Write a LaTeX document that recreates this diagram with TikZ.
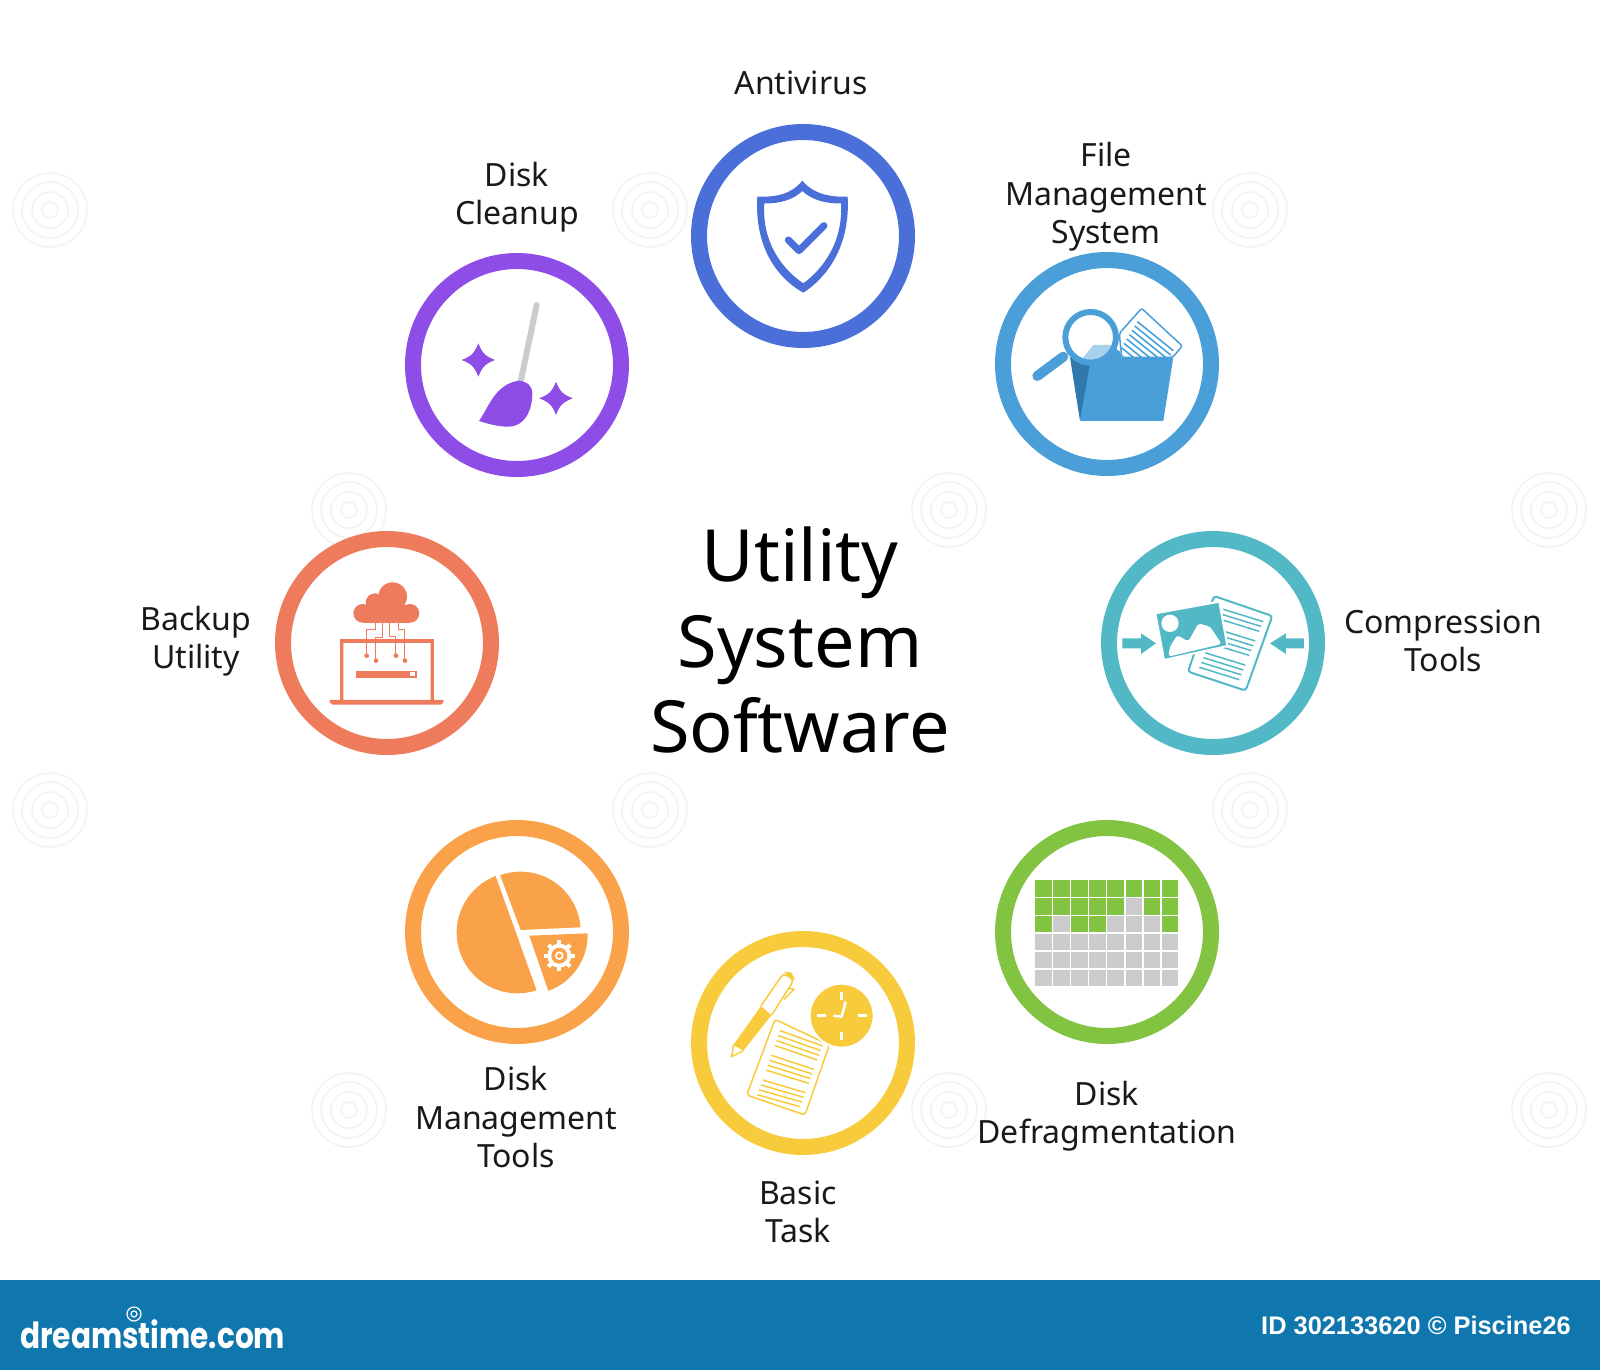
\documentclass[tikz,border=0pt]{standalone}
\usepackage{fontspec}
\setmainfont{Noto Sans}
\newfontfamily\logofont{Poppins}
\newfontfamily\idfont{Liberation Sans}
\definecolor{cAnti}{HTML}{4A6FD8}
\definecolor{cFile}{HTML}{4A9FD9}
\definecolor{cFileDark}{HTML}{2F79AB}
\definecolor{cFileLight}{HTML}{A8D1EE}
\definecolor{cComp}{HTML}{52B8C6}
\definecolor{cDefrag}{HTML}{82C341}
\definecolor{cBasic}{HTML}{F7CB3B}
\definecolor{cMgmt}{HTML}{F9A249}
\definecolor{cBackup}{HTML}{ED7B5C}
\definecolor{cClean}{HTML}{8F4DE8}
\definecolor{cGrey}{HTML}{CCCCCC}
\definecolor{cBanner}{HTML}{0F76AE}
\definecolor{cMark}{HTML}{F3F3F3}
\tikzset{
  ring/.style={circle,draw=#1,line width=16pt,minimum size=208pt,inner sep=0pt,outer sep=0pt},
  lbl/.style={align=center,font=\fontsize{32}{38.5}\selectfont,text=black!90},
  zoomed/.style={x=.3333pt,y=-.3333pt},
}
\begin{document}
\begin{tikzpicture}[x=1pt,y=-1pt]
  \useasboundingbox (0,0) rectangle (1600,1370);
  % faint marks
  \foreach \mx/\my in {50/210,650/210,1250/210,349/510,949/510,1549/510,50/810,650/810,1250/810,349/1110,949/1110,1549/1110}{
    \foreach \mr in {8,18,28,37}
      \draw[cMark,line width=1.6pt] (\mx,\my) circle[radius=\mr];
  }

  % rings and labels
  \foreach \n/\cx/\cy/\col in {Anti/803/236/cAnti,File/1107/364/cFile,Comp/1213/643/cComp,Defrag/1107/932/cDefrag,Basic/803/1043/cBasic,Mgmt/517/932/cMgmt,Backup/387/643/cBackup,Clean/517/365/cClean}
    \node[ring=\col](R\n) at (\cx,\cy){};

  \node[lbl](LAnti) at (801,83){Antivirus};
  \node[lbl](LFile) at (1106,197){File\\Management\\System};
  \node[lbl](LComp) at (1443,641){Compression\\Tools};
  \node[lbl](LDefrag) at (1107,1116){Disk\\Defragmentation};
  \node[lbl](LBasic) at (798,1212){Basic\\Task};
  \node[lbl](LMgmt) at (516,1117){Disk\\Management\\Tools};
  \node[lbl](LBackup) at (196,641){Backup\\Utility};
  \node[lbl](LClean) at (517,197){Disk\\Cleanup};
  \node[align=center,font=\fontsize{72}{85.5}\selectfont,text=black](Title) at (800,640){Utility\\System\\Software};

  % antivirus
  \begin{scope}[shift={(680,120)},zoomed]
    \fill[cAnti,even odd rule] (367,182) .. controls (400,222) and (450,232) .. (503,230)
      .. controls (512,390) and (430,480) .. (370,518) .. controls (300,480) and (222,390) .. (232,230)
      .. controls (290,232) and (335,222) .. (367,182) -- cycle
      (367,213) .. controls (395,240) and (440,252) .. (483,250)
      .. controls (490,370) and (425,450) .. (370,490) .. controls (310,450) and (245,370) .. (253,250)
      .. controls (295,252) and (340,240) .. (367,213) -- cycle;
    \draw[cAnti,line width=7pt,line cap=round,line join=round] (325,360) -- (357,392) -- (432,317);
  \end{scope}

  % file management
  \begin{scope}[shift={(980,240)},zoomed]
    \draw[cFile,fill=white,line width=1.5pt,rounded corners=2pt] (485,205) -- (607,318) -- (578,352) -- (425,352) -- (418,280) -- cycle;
    \foreach \i in {0,1,2,3,4,5,6}
      \draw[cFile,line width=1.6pt] ({472-8*\i},{245+13*\i}) -- ({580-8*\i},{332+13*\i});
    \fill[cFileDark] (270,352) -- (345,352) -- (300,543) -- cycle;
    \fill[cFile] (340,315) -- (392,315) -- (420,335) -- (425,352) -- (580,352) -- (550,543) -- (300,543) -- cycle;
    \draw[cFile,line width=10pt,line cap=round] (250,350) -- (172,408);
    \fill[white] (332,292) circle[radius=70];
    \begin{scope}
      \clip (332,292) circle[radius=70];
      \fill[cFileLight] (340,315) -- (392,315) -- (420,335) -- (425,365) -- (300,365) -- cycle;
    \end{scope}
    \draw[cFile,line width=6pt] (332,292) circle[radius=76];
  \end{scope}

  % compression
  \begin{scope}[shift={(1090,520)},zoomed]
    \draw[cComp,fill=white,line width=2pt,rounded corners=3pt] (372,228) -- (547,288) -- (467,512) -- (294,455) -- cycle;
    \foreach \i in {0,1,2,4,5,6,7,9,10,11,12}
      \draw[cComp,line width=1.5pt] ({400-6*\i},{268+14.5*\i}) -- ({520-6*\i},{305+14.5*\i});
    \fill[cComp,draw=white,line width=2pt] (196,280) -- (388,245) -- (412,378) -- (222,420) -- cycle;
    \fill[white] (240,310) circle[radius=26];
    \fill[white,rounded corners=3pt] (235,410) -- (240,380) -- (262,345) -- (295,365) -- (325,310) -- (360,320) -- (395,372) -- cycle;
    \fill[cComp] (97,355) -- (153,355) -- (153,340) -- (198,370) -- (153,402) -- (153,385) -- (97,385) -- cycle;
    \fill[cComp] (642,355) -- (588,355) -- (588,340) -- (540,370) -- (588,402) -- (588,385) -- (642,385) -- cycle;
  \end{scope}

  % defragmentation
  \begin{scope}[shift={(990,820)},zoomed]
    \foreach \r in {0,...,5}
      \foreach \c in {0,...,7}
        \fill[cGrey] ({135+54.3*\c},{180+54*\r}) rectangle ++(49.5,49.5);
    \foreach \r/\cols in {0/{0,1,2,3,4,5,6,7},1/{0,1,2,3,4,6,7},2/{0,2,3,7}}
      \foreach \c in \cols
        \fill[cDefrag] ({135+54.3*\c},{180+54*\r}) rectangle ++(49.5,49.5);
  \end{scope}

  % basic task
  \begin{scope}[shift={(680,930)},zoomed]
    \fill[cBasic] (160,345) -- (243,228) -- (275,255) -- (190,362) -- cycle;
    \draw[cBasic,line width=1.5pt,line join=round] (160,345) -- (155,380) -- (190,362);
    \draw[cBasic,fill=white,line width=1.5pt,rounded corners=4pt] (243,228) -- (310,130) -- (342,150) -- (275,255);
    \fill[cBasic] (312,125) -- (335,128) -- (345,150) -- (325,140) -- cycle;
    \draw[cBasic,line width=1.5pt] (328,175) -- (342,178) -- (312,208);
    \draw[cBasic,fill=white,line width=1.5pt,rounded corners=3pt] (285,268) -- (448,345) -- (375,555) -- (200,495) -- cycle;
    \foreach \i in {0,1,2,3,5,6,7,8,10,11,12,13}
      \draw[cBasic,line width=1.5pt] ({300-5.2*\i},{302+14.8*\i}) -- ({428-5.2*\i},{348+14*\i});
    \fill[cBasic,draw=white,line width=2pt] (485,257) circle[radius=96];
    \draw[white,line width=3.5pt] (485,185) -- (485,210) (485,305) -- (485,330) (412,257) -- (437,257) (535,257) -- (560,257);
    \draw[white,line width=2.5pt,line join=round] (497,215) -- (485,260) -- (460,257);
  \end{scope}

  % disk management
  \begin{scope}[shift={(400,820)},zoomed]
    \fill[cMgmt] plot[domain=249.1:71.5,samples=50] ({352+182*cos(\x)},{338+182*sin(\x)}) -- cycle;
    \fill[cMgmt] (362,330) -- plot[domain=-110:-4.2,samples=40] ({362+180*cos(\x)},{335+180*sin(\x)}) -- cycle;
    \fill[cMgmt] (388,347) -- plot[domain=-1.6:70.3,samples=30] ({385+178*cos(\x)},{345+178*sin(\x)}) -- cycle;
    \foreach \a in {0,45,...,315}
      \draw[white,line width=4pt] ({478+30*cos(\a)},{407+30*sin(\a)}) -- ({478+46*cos(\a)},{407+46*sin(\a)});
    \fill[white] (478,407) circle[radius=36];
    \fill[cMgmt] (478,407) circle[radius=24];
    \fill[white] (478,407) circle[radius=13];
    \fill[cMgmt] (478,407) circle[radius=7];
  \end{scope}

  % backup
  \begin{scope}[shift={(270,530)},zoomed]
    \foreach \bx/\by/\br in {278/250/28,315/218/28,368/200/43,420/250/28}
      \fill[cBackup] (\bx,\by) circle[radius=\br];
    \fill[cBackup] (278,225) rectangle (420,278);
    \draw[cBackup,line width=1pt] (318,278) -- (318,300) -- (290,300) -- (290,377);
    \draw[cBackup,line width=1pt] (338,278) -- (338,322) -- (318,322) -- (318,392);
    \draw[cBackup,line width=1pt] (360,278) -- (360,320) -- (378,320) -- (378,377);
    \draw[cBackup,line width=1pt] (385,278) -- (385,298) -- (405,298) -- (405,392);
    \draw[cBackup,line width=3.3pt,rounded corners=2pt] (215,510) -- (215,332) -- (487,332) -- (487,510);
    \fill[cBackup] (210,327) rectangle (492,340);
    \foreach \bx/\by in {290/377,318/392,378/377,405/392}
      \fill[cBackup] (\bx,\by) circle[radius=7];
    \fill[cBackup] (180,510) -- (520,510) -- (520,518) -- (512,524) -- (188,524) -- (180,518) -- cycle;
    \fill[cBackup] (258,422) rectangle (442,443);
    \fill[white] (420,427) rectangle (435,438);
  \end{scope}

  % disk cleanup
  \begin{scope}[shift={(400,250)},zoomed]
    \draw[cGrey,line width=6pt,line cap=round] (410,165) -- (362,395);
    \fill[cClean] (237,513) .. controls (270,465) and (285,405) .. (355,392)
      .. controls (385,395) and (397,410) .. (397,430) .. controls (397,480) and (375,530) .. (325,530)
      .. controls (290,530) and (260,520) .. (237,513) -- cycle;
    \foreach \sx/\sy in {235/330,468/445}
      \fill[cClean] (\sx-50,\sy) .. controls (\sx-20,\sy-12) and (\sx-12,\sy-20) .. (\sx,\sy-50)
        .. controls (\sx+12,\sy-20) and (\sx+20,\sy-12) .. (\sx+50,\sy)
        .. controls (\sx+20,\sy+12) and (\sx+12,\sy+20) .. (\sx,\sy+50)
        .. controls (\sx-12,\sy+20) and (\sx-20,\sy+12) .. (\sx-50,\sy) -- cycle;
  \end{scope}

  % banner
  \fill[cBanner] (0,1280) rectangle (1600,1370);
  \node[anchor=west,text=white,inner sep=0pt,xscale=.82,font=\logofont\bfseries\fontsize{36}{36}\selectfont](Logo) at (20,1334){dreamstime.com};
  \draw[white,line width=1.2pt] (134,1314) circle[radius=7] (134,1314) circle[radius=3];
  \node[anchor=east,text=white,inner sep=0pt,font=\idfont\bfseries\fontsize{25.4}{25.4}\selectfont](Credit) at (1571,1325){ID 302133620 © Piscine26};
\end{tikzpicture}
\end{document}
